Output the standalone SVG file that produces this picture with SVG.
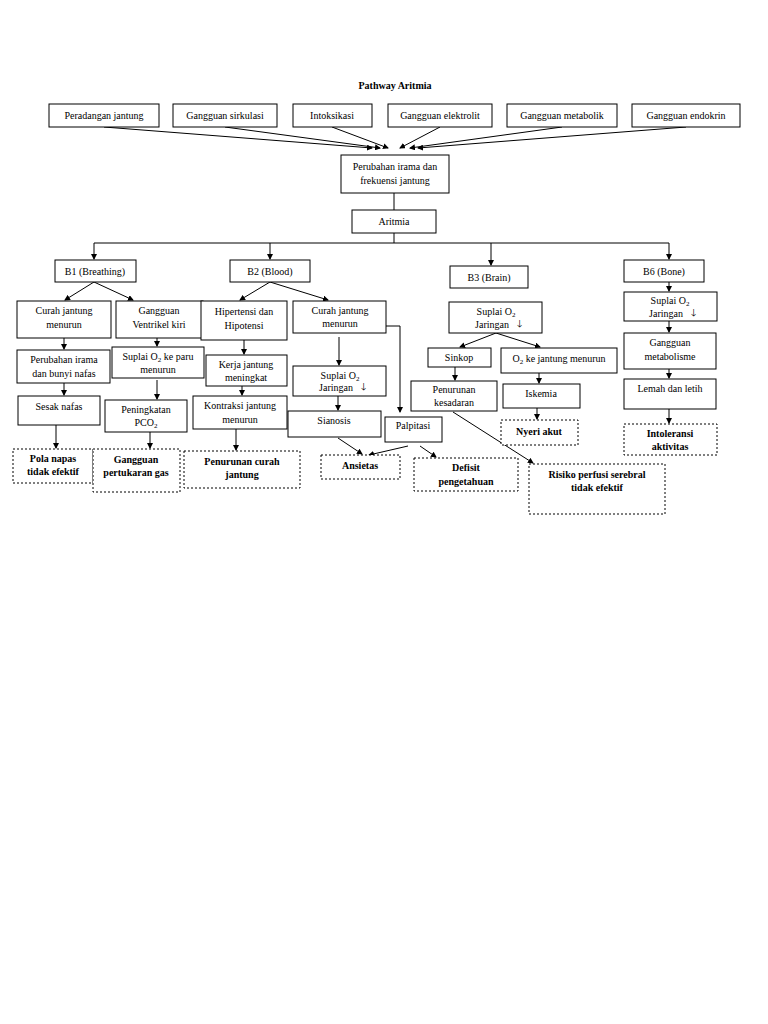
<svg xmlns="http://www.w3.org/2000/svg" width="768" height="1024" viewBox="0 0 768 1024">
<style>
rect{fill:#fff;stroke:#000;stroke-width:1}
rect.d{stroke-dasharray:2,2}
text{font-family:"Liberation Serif",serif;font-size:10px;text-anchor:middle;fill:#000}
text.b{font-weight:bold}
#c line,#c polyline{stroke:#000;stroke-width:1;fill:none;marker-end:url(#a)}
#c .n{marker-end:none}
</style>
<defs><marker id="a" markerWidth="6" markerHeight="6" refX="5" refY="3" orient="auto" markerUnits="userSpaceOnUse"><path d="M0,0L6,3L0,6z" fill="#000"/></marker></defs>
<rect x="0" y="0" width="768" height="1024" style="stroke:none"/>
<text class="b" x="395" y="89">Pathway Aritmia</text>
<g id="c">
<line x1="104" y1="127" x2="372" y2="148"/>
<line x1="225" y1="127" x2="380" y2="148"/>
<line x1="332" y1="127" x2="388" y2="148"/>
<line x1="440" y1="127" x2="400" y2="148"/>
<line x1="562" y1="127" x2="410" y2="148"/>
<line x1="686" y1="127" x2="418" y2="148"/>
<line class="n" x1="394" y1="193" x2="394" y2="210"/>
<line class="n" x1="394" y1="233" x2="394" y2="243"/>
<line class="n" x1="94" y1="243" x2="669" y2="243"/>
<line x1="94" y1="243" x2="94" y2="259"/>
<line x1="270" y1="243" x2="270" y2="259"/>
<line x1="491" y1="243" x2="491" y2="265"/>
<line x1="669" y1="243" x2="669" y2="259"/>
<line x1="94" y1="282" x2="65" y2="300"/>
<line x1="94" y1="282" x2="133" y2="300"/>
<line x1="64" y1="338" x2="64" y2="349"/>
<line x1="64" y1="383" x2="64" y2="395"/>
<line x1="56" y1="425" x2="56" y2="448"/>
<line x1="157" y1="338" x2="157" y2="346"/>
<line x1="157" y1="380" x2="157" y2="399"/>
<line x1="150" y1="432" x2="150" y2="448"/>
<line x1="270" y1="282" x2="240" y2="300"/>
<line x1="270" y1="282" x2="328" y2="300"/>
<line x1="244" y1="340" x2="244" y2="354"/>
<line x1="242" y1="386" x2="242" y2="395"/>
<line x1="236" y1="429" x2="236" y2="450"/>
<line x1="339" y1="337" x2="339" y2="365"/>
<line x1="338" y1="396" x2="338" y2="410"/>
<polyline points="386,326 400,326 400,412"/>
<line x1="338" y1="438" x2="362" y2="454"/>
<line x1="408" y1="446" x2="369" y2="455"/>
<line x1="420" y1="446" x2="436" y2="457"/>
<line x1="496" y1="333" x2="460" y2="347"/>
<line x1="496" y1="333" x2="540" y2="347"/>
<line x1="455" y1="367" x2="455" y2="380"/>
<line x1="539" y1="373" x2="539" y2="383"/>
<line x1="537" y1="408" x2="537" y2="419"/>
<line x1="453" y1="412" x2="533" y2="463"/>
<line x1="669" y1="282" x2="669" y2="291"/>
<line x1="669" y1="321" x2="669" y2="332"/>
<line x1="669" y1="369" x2="669" y2="378"/>
<line x1="669" y1="409" x2="669" y2="423"/>
</g>
<g id="n1"><rect x="49" y="104" width="110" height="23"/><text x="104" y="119">Peradangan jantung</text></g>
<g id="n2"><rect x="173" y="104" width="104" height="23"/><text x="225" y="119">Gangguan sirkulasi</text></g>
<g id="n3"><rect x="293" y="104" width="79" height="23"/><text x="332" y="119">Intoksikasi</text></g>
<g id="n4"><rect x="388" y="104" width="104" height="23"/><text x="440" y="119">Gangguan elektrolit</text></g>
<g id="n5"><rect x="507" y="104" width="110" height="23"/><text x="562" y="119">Gangguan metabolik</text></g>
<g id="n6"><rect x="632" y="104" width="108" height="23"/><text x="686" y="119">Gangguan endokrin</text></g>
<g id="n7"><rect x="341" y="155" width="108" height="38"/><text x="395" y="170">Perubahan irama dan</text><text x="395" y="184">frekuensi jantung</text></g>
<g id="n8"><rect x="352" y="210" width="84" height="23"/><text x="394" y="225">Aritmia</text></g>
<g id="b1"><rect x="55" y="260" width="81" height="22"/><text x="95" y="275">B1 (Breathing)</text></g>
<g id="b2"><rect x="230" y="260" width="80" height="22"/><text x="270" y="275">B2 (Blood)</text></g>
<g id="b3"><rect x="450" y="266" width="78" height="22"/><text x="489" y="281">B3 (Brain)</text></g>
<g id="b6"><rect x="624" y="260" width="80" height="22"/><text x="664" y="275">B6 (Bone)</text></g>
<g id="a1"><rect x="17" y="301" width="94" height="37"/><text x="64" y="314">Curah jantung</text><text x="64" y="328">menurun</text></g>
<g id="a2"><rect x="17" y="350" width="93" height="33"/><text x="64" y="363">Perubahan irama</text><text x="64" y="377">dan bunyi nafas</text></g>
<g id="a3"><rect x="18" y="396" width="82" height="29"/><text x="59" y="410">Sesak nafas</text></g>
<g id="a4"><rect class="d" x="13" y="449" width="80" height="34"/><text class="b" x="53" y="462">Pola napas</text><text class="b" x="53" y="475">tidak efektif</text></g>
<g id="c1"><rect x="116" y="301" width="87" height="37"/><text x="159" y="314">Gangguan</text><text x="159" y="328">Ventrikel kiri</text></g>
<g id="c2"><rect x="112" y="347" width="92" height="31"/><text x="158" y="360">Suplai O<tspan font-size="7" dy="2">2</tspan><tspan dy="-2"> ke paru</tspan></text><text x="158" y="373">menurun</text></g>
<g id="c3"><rect x="105" y="400" width="82" height="32"/><text x="146" y="413">Peningkatan</text><text x="146" y="426">PCO<tspan font-size="7" dy="2">2</tspan></text></g>
<g id="c4"><rect class="d" x="93" y="449" width="87" height="43"/><text class="b" x="136" y="463">Gangguan</text><text class="b" x="136" y="476">pertukaran gas</text></g>
<g id="d1"><rect x="201" y="301" width="86" height="39"/><text x="244" y="315">Hipertensi dan</text><text x="244" y="329">Hipotensi</text></g>
<g id="d2"><rect x="206" y="355" width="81" height="31"/><text x="246" y="368">Kerja jantung</text><text x="246" y="381">meningkat</text></g>
<g id="d3"><rect x="193" y="396" width="94" height="33"/><text x="240" y="409">Kontraksi jantung</text><text x="240" y="423">menurun</text></g>
<g id="d4"><rect class="d" x="184" y="451" width="116" height="37"/><text class="b" x="242" y="465">Penurunan curah</text><text class="b" x="242" y="478">jantung</text></g>
<g id="e1"><rect x="293" y="301" width="93" height="32"/><text x="340" y="314">Curah jantung</text><text x="340" y="327">menurun</text></g>
<g id="e2"><rect x="293" y="366" width="93" height="30"/><text x="340" y="379">Suplai O<tspan font-size="7" dy="2">2</tspan></text><text x="336" y="391">Jaringan</text><text x="363" y="390">🡓</text></g>
<g id="e3"><rect x="288" y="411" width="93" height="26"/><text x="334" y="424">Sianosis</text></g>
<g id="e4"><rect x="385" y="417" width="57" height="25"/><text x="413" y="429">Palpitasi</text></g>
<g id="e5"><rect class="d" x="321" y="455" width="79" height="24"/><text class="b" x="360" y="469">Ansietas</text></g>
<g id="e6"><rect class="d" x="414" y="458" width="104" height="33"/><text class="b" x="466" y="471">Defisit</text><text class="b" x="466" y="485">pengetahuan</text></g>
<g id="f1"><rect x="449" y="302" width="93" height="31"/><text x="496" y="315">Suplai O<tspan font-size="7" dy="2">2</tspan></text><text x="492" y="328">Jaringan</text><text x="519" y="327">🡓</text></g>
<g id="f2"><rect x="428" y="348" width="63" height="19"/><text x="459" y="361">Sinkop</text></g>
<g id="f3"><rect x="501" y="348" width="116" height="25"/><text x="559" y="362">O<tspan font-size="7" dy="2">2</tspan><tspan dy="-2"> ke jantung menurun</tspan></text></g>
<g id="f4"><rect x="411" y="381" width="86" height="30"/><text x="454" y="393">Penurunan</text><text x="454" y="406">kesadaran</text></g>
<g id="f5"><rect x="503" y="384" width="77" height="24"/><text x="541" y="397">Iskemia</text></g>
<g id="f6"><rect class="d" x="501" y="420" width="77" height="25"/><text class="b" x="539" y="435">Nyeri akut</text></g>
<g id="f7"><rect class="d" x="529" y="464" width="136" height="50"/><text class="b" x="597" y="478">Risiko perfusi serebral</text><text class="b" x="597" y="491">tidak efektif</text></g>
<g id="g1"><rect x="624" y="292" width="93" height="29"/><text x="670" y="304">Suplai O<tspan font-size="7" dy="2">2</tspan></text><text x="666" y="317">Jaringan</text><text x="693" y="316">🡓</text></g>
<g id="g2"><rect x="624" y="333" width="92" height="36"/><text x="670" y="346">Gangguan</text><text x="670" y="360">metabolisme</text></g>
<g id="g3"><rect x="624" y="379" width="92" height="30"/><text x="670" y="392">Lemah dan letih</text></g>
<g id="g4"><rect class="d" x="624" y="424" width="93" height="31"/><text class="b" x="670" y="437">Intoleransi</text><text class="b" x="670" y="450">aktivitas</text></g>
</svg>
